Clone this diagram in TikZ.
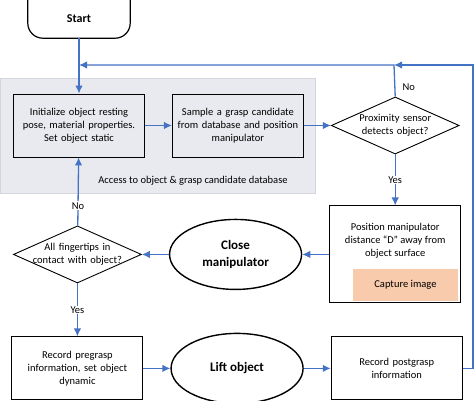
\documentclass[tikz,border=0pt]{standalone}
\usepackage{fontspec}
\setmainfont{Carlito}
\usepackage{tikz}
\usetikzlibrary{arrows.meta,shapes,positioning}
\definecolor{flowblue}{HTML}{4472C4}
\definecolor{dbgray}{HTML}{E8EAEF}
\definecolor{dbedge}{HTML}{D3D7DD}
\definecolor{capfill}{HTML}{F8CBAD}

\begin{document}
\begin{tikzpicture}[
    x=1pt, y=-1pt,
    box/.style={rectangle, draw, line width=0.9pt, text width=125pt, inner sep=3pt,
                minimum height=63pt, align=center, font=\fontsize{10.5}{13}\selectfont},
    decision/.style={diamond, draw, line width=0.9pt, aspect=2.24, text width=96pt,
                inner sep=-2.7pt, align=center, font=\fontsize{10.5}{13}\selectfont},
    action/.style={ellipse, draw, line width=1.4pt, minimum width=132pt, minimum height=70pt,
                inner sep=0pt, align=center, font=\fontsize{13}{17}\selectfont\bfseries},
    line/.style={draw, flowblue, line width=1.3pt, -{Latex[length=8pt,width=7.5pt]}},
    tag/.style={fill=white, text=black, inner sep=1pt, font=\fontsize{10.5}{13}\selectfont},
    node distance=27pt
]
\useasboundingbox (0,0) rectangle (474,401);
\clip (0,0) rectangle (474,401);

% Database area
\path[fill=dbgray, draw=dbedge] (0,78) rectangle (315,193);
\node[font=\fontsize{10.5}{13}\selectfont] (dblabel) at (193,181) {Access to object \& grasp candidate database};

% Start
\node[minimum width=102pt, minimum height=38pt, font=\fontsize{12}{14}\selectfont\bfseries] (start) at (79,19) {Start};
\draw[line width=1.2pt, rounded corners=15pt] ([yshift=20pt]start.north west) rectangle (start.south east);

% Upper row
\node [box] (init) at (79,125.5) {Initialize object resting\\pose, material properties.\\Set object static};
\node [box, right=of init] (sample) {Sample a grasp candidate\\from database and position\\manipulator};
\node [decision, right=of sample] (prox) {Proximity sensor\\detects object?};

% Middle row
\node [box, minimum height=97pt, below=51pt of prox] (posm) {};
\node [inner sep=0pt, align=center, font=\fontsize{10.5}{13}\selectfont, below=18pt of posm.north] (posmtxt) {Position manipulator\\distance “D” away from\\object surface};
\node [fill=capfill, minimum width=105pt, minimum height=32pt, font=\fontsize{10.5}{13}\selectfont,
       anchor=south east] (capt) at ([xshift=-3pt,yshift=2pt]posm.south east) {Capture image};
\node [action, left=of posm] (close) {Close\\manipulator};
\node [decision, left=of close] (fingers) {All fingertips in\\contact with object?};

% Lower row
\node [box, below=53pt of fingers] (pregrasp) {Record pregrasp\\information, set object\\dynamic};
\node [action, right=of pregrasp] (lift) {Lift object};
\node [box, right=of lift] (postgrasp) {Record postgrasp\\information};

% Loop coordinates
\coordinate (fb) at (79,65);
\coordinate (jn) at (394,65);
\coordinate (rc) at (473,65);

% Connect upper row
\draw [line] (start) -- (init);
\draw [line] (init) -- (sample);
\draw [line] (sample) -- (prox);
\draw [line] (prox.north) -- node[tag, fill=none, pos=0.3, right=6pt] {No} (jn) -- (fb);
\draw [line] (prox) -- node[tag] {Yes} (posm);

% Connect middle row
\draw [line] (posm) -- (close);
\draw [line] (close) -- (fingers);
\draw [line] (fingers) -- node[tag, pos=0.29] {No} (init);
\draw [line] (fingers) -- node[tag] {Yes} (pregrasp);

% Connect lower row
\draw [line] (pregrasp) -- (lift);
\draw [line] (lift) -- (postgrasp);
\draw [line] (postgrasp.east) -- (postgrasp.east -| rc) -- (rc) -- (jn);

\end{tikzpicture}
\end{document}
